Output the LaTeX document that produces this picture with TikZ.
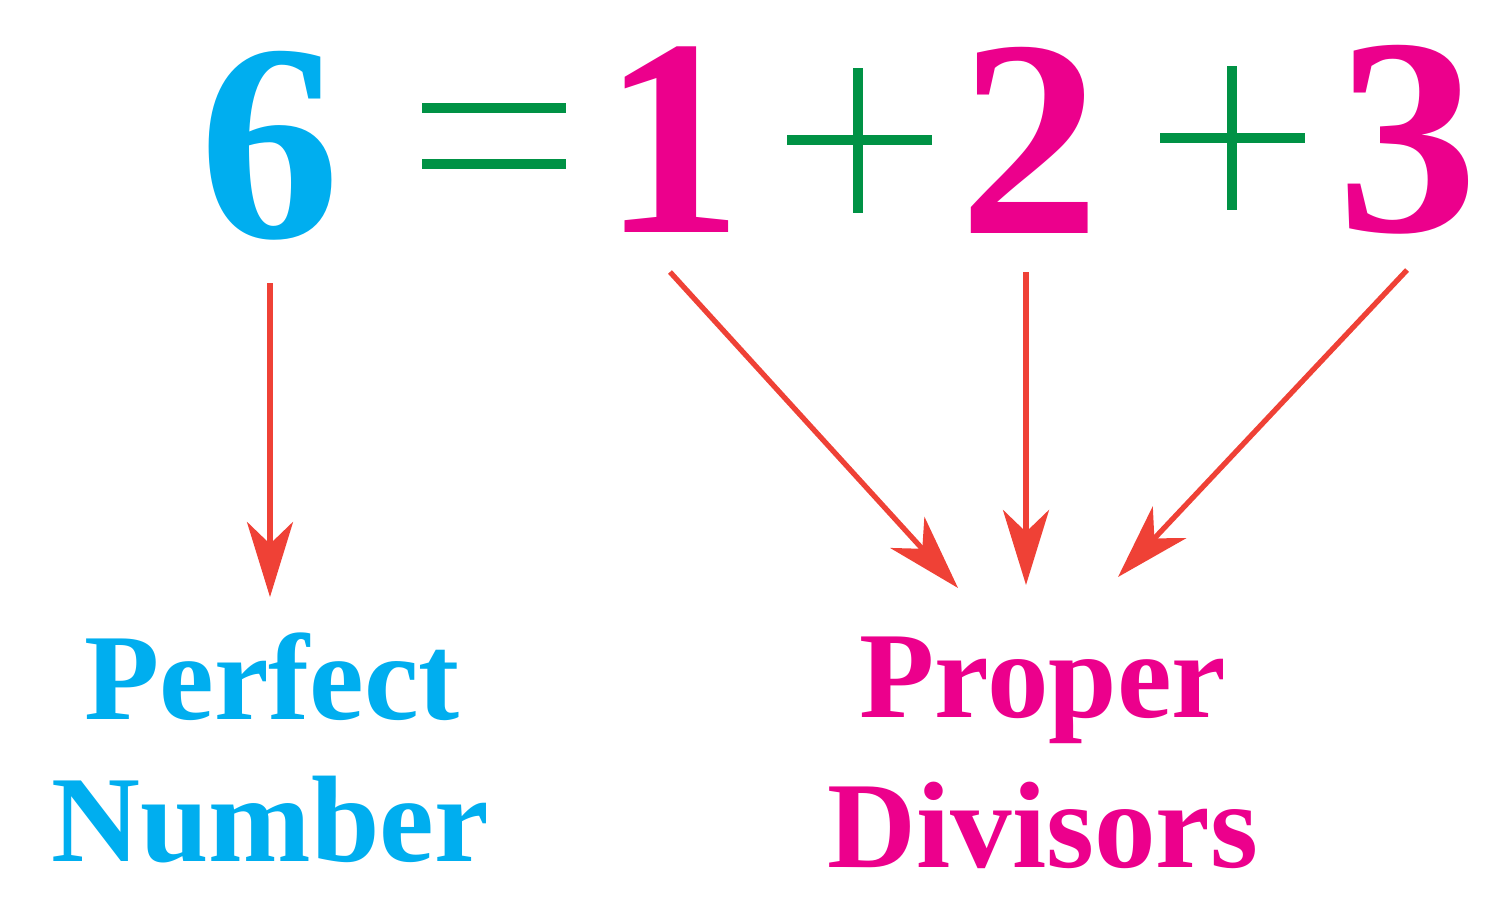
\documentclass[tikz,border=0pt]{standalone}
\usepackage{fontspec}
\setmainfont{Liberation Serif}
\usetikzlibrary{arrows.meta}
\definecolor{cblue}{RGB}{0,174,239}
\definecolor{cpink}{RGB}{236,0,140}
\definecolor{cgreen}{RGB}{0,146,69}
\definecolor{cred}{RGB}{239,65,54}
\begin{document}
\begin{tikzpicture}[x=0.01cm,y=-0.01cm,
  big/.style={font=\bfseries\fontsize{80}{80}\selectfont,inner sep=0},
  lab/.style={font=\bfseries\fontsize{35}{35}\selectfont,inner sep=0},
  op/.style={cgreen,line width=0.1cm},
  arr/.style={cred,line width=1.5pt,-{Stealth[length=0.75cm,width=0.46cm,inset=0.22cm]}}]
\useasboundingbox (0,0) rectangle (1507,921);
\node[big,text=cblue] (six) at (270,146) {6};
\node[big,text=cpink] (one) at (673,140) {1};
\node[big,text=cpink] (two) at (1030,140) {2};
\node[big,text=cpink] (three) at (1408,140) {3};
\draw[op] (422,108) -- (566,108);
\draw[op] (422,164) -- (566,164);
\draw[op] (787,140) -- (932,140);
\draw[op] (858,68) -- (858,213);
\draw[op] (1160,138) -- (1305,138);
\draw[op] (1232,66) -- (1232,210);
\node[lab,text=cblue] (perfect) at (272,677) {Perfect};
\node[lab,text=cblue] (number) at (270,820) {Number};
\node[lab,text=cpink] (proper) at (1043,690) {Proper};
\node[lab,text=cpink] (divisors) at (1043,825) {Divisors};
\coordinate (s6) at (270,283); \coordinate (e6) at (270,597);
\coordinate (s1) at (670,272); \coordinate (e1) at (958,588);
\coordinate (s2) at (1026,272); \coordinate (e2) at (1026,585);
\coordinate (s3) at (1407,270); \coordinate (e3) at (1118,577);
\draw[arr] (s6) -- (e6);
\draw[arr] (s1) -- (e1);
\draw[arr] (s2) -- (e2);
\draw[arr] (s3) -- (e3);
\end{tikzpicture}
\end{document}
